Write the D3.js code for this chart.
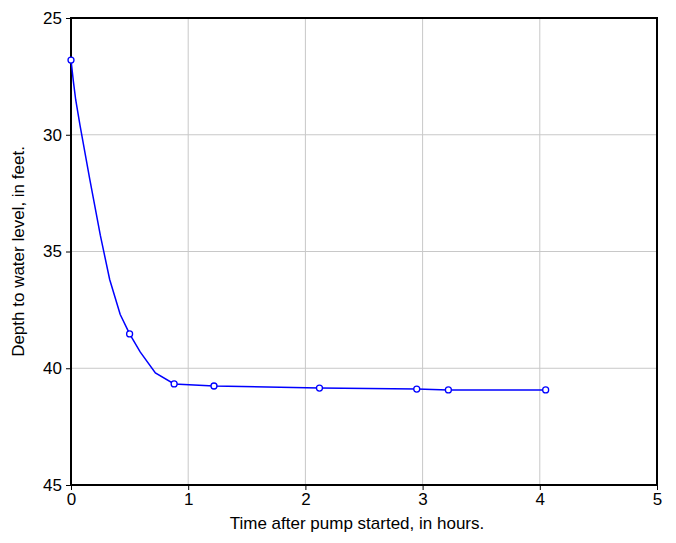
<!DOCTYPE html>
<html><head><meta charset="utf-8">
<script src="https://cdn.jsdelivr.net/npm/d3@7"></script>
<style>body{margin:0;background:#fff}</style></head>
<body><svg id="c" width="676" height="543"></svg>
<script>
const lineX = [0,0.02,0.04,0.077,0.16,0.25,0.33,0.42,0.5,0.59,0.72,0.88,1.22,2.12,2.95,3.22,4.05];
const lineY = [26.8,27.7,28.5,29.6,31.9,34.3,36.2,37.7,38.53,39.3,40.2,40.67,40.76,40.85,40.89,40.93,40.93];
const markX = [0,0.5,0.88,1.22,2.12,2.95,3.22,4.05];
const markY = [26.8,38.53,40.67,40.76,40.85,40.89,40.93,40.93];
const xTicks = [0,1,2,3,4,5];
const yTicks = [25,30,35,40,45];

const svg = d3.select("#c");
const L=71,R=657,T=18,B=485;
const x = d3.scaleLinear().domain([0,5]).range([L,R]);
const y = d3.scaleLinear().domain([25,45]).range([T,B]);
const font = "Liberation Sans, Arial, sans-serif";

svg.append("g").selectAll("line").data(xTicks.slice(1,-1)).join("line")
  .attr("x1",d=>x(d)).attr("x2",d=>x(d)).attr("y1",T).attr("y2",B).attr("stroke","#c8c8c8");
svg.append("g").selectAll("line").data(yTicks.slice(1,-1)).join("line")
  .attr("y1",d=>y(d)).attr("y2",d=>y(d)).attr("x1",L).attr("x2",R).attr("stroke","#c8c8c8");
svg.append("rect").attr("x",L).attr("y",T).attr("width",R-L).attr("height",B-T)
  .attr("fill","none").attr("stroke","#000").attr("stroke-width",2);

const xa = svg.append("g").attr("transform",`translate(0,${B})`)
  .call(d3.axisBottom(x).tickValues(xTicks).tickSize(5).tickFormat(d3.format("d")));
const ya = svg.append("g").attr("transform",`translate(${L},0)`)
  .call(d3.axisLeft(y).tickValues(yTicks).tickSize(5).tickFormat(d3.format("d")));
[xa,ya].forEach(a=>{a.select(".domain").remove();
  a.selectAll("text").attr("font-family",font).attr("font-size",17).attr("fill","#000");});
ya.selectAll("text").attr("x",-9);

svg.append("text").attr("x",(L+R)/2-7).attr("y",529).attr("text-anchor","middle")
  .attr("font-family",font).attr("font-size",17).text("Time after pump started, in hours.");
svg.append("text").attr("transform",`translate(24,${(T+B)/2}) rotate(-90)`).attr("text-anchor","middle")
  .attr("font-family",font).attr("font-size",17).text("Depth to water level, in feet.");

const pts = lineX.map((v,i)=>[v,lineY[i]]);
svg.append("path").datum(pts).attr("fill","none").attr("stroke","#0000ff").attr("stroke-width",1.5)
  .attr("d",d3.line().x(d=>x(d[0])).y(d=>y(d[1])));
svg.append("g").selectAll("circle").data(markX.map((v,i)=>[v,markY[i]])).join("circle")
  .attr("cx",d=>x(d[0])).attr("cy",d=>y(d[1])).attr("r",3)
  .attr("fill","#fff").attr("stroke","#0000ff").attr("stroke-width",1.3);
</script></body></html>
